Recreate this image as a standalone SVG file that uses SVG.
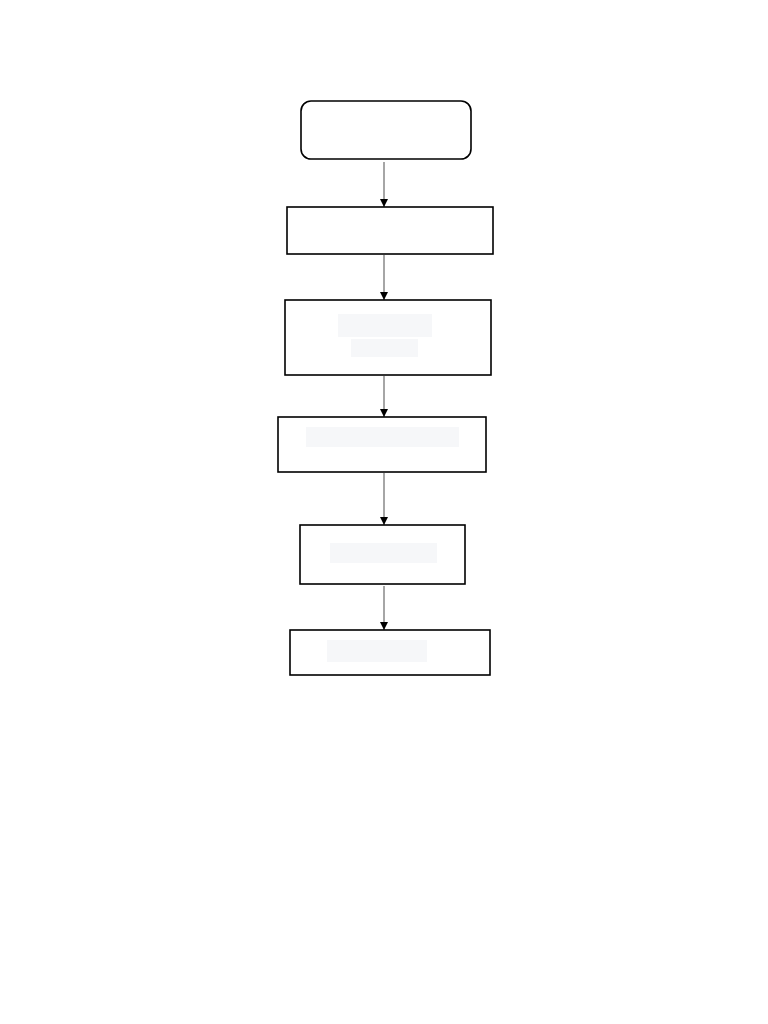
<svg xmlns="http://www.w3.org/2000/svg" width="768" height="1024" viewBox="0 0 768 1024">
<defs>
<style>
.box{fill:#fff;stroke:#000;stroke-width:1.6}
.hl{fill:#f6f7f9;stroke:none}
.conn{stroke:#808080;stroke-width:1.4;fill:none}
</style>
<marker id="ah" markerWidth="10" markerHeight="10" refX="8" refY="4" orient="auto" markerUnits="userSpaceOnUse">
<path d="M0,0 L8,4 L0,8 Z" fill="#000"/>
</marker>
</defs>
<rect width="768" height="1024" fill="#fff"/>
<g id="connectors">
<line class="conn" x1="384" y1="162" x2="384" y2="207" marker-end="url(#ah)"/>
<line class="conn" x1="384" y1="255" x2="384" y2="300" marker-end="url(#ah)"/>
<line class="conn" x1="384" y1="376" x2="384" y2="417" marker-end="url(#ah)"/>
<line class="conn" x1="384" y1="473" x2="384" y2="525" marker-end="url(#ah)"/>
<line class="conn" x1="384" y1="586" x2="384" y2="630" marker-end="url(#ah)"/>
</g>
<g id="node1"><rect class="box" x="301" y="101" width="170" height="58" rx="10"/></g>
<g id="node2"><rect class="box" x="287" y="207" width="206" height="47"/></g>
<g id="node3"><rect class="box" x="285" y="300" width="206" height="75"/>
<rect class="hl" x="338" y="314" width="94" height="23"/>
<rect class="hl" x="351" y="339" width="67" height="18"/></g>
<g id="node4"><rect class="box" x="278" y="417" width="208" height="55"/>
<rect class="hl" x="306" y="427" width="153" height="20"/></g>
<g id="node5"><rect class="box" x="300" y="525" width="165" height="59"/>
<rect class="hl" x="330" y="543" width="107" height="20"/></g>
<g id="node6"><rect class="box" x="290" y="630" width="200" height="45"/>
<rect class="hl" x="327" y="640" width="100" height="22"/></g>
</svg>
